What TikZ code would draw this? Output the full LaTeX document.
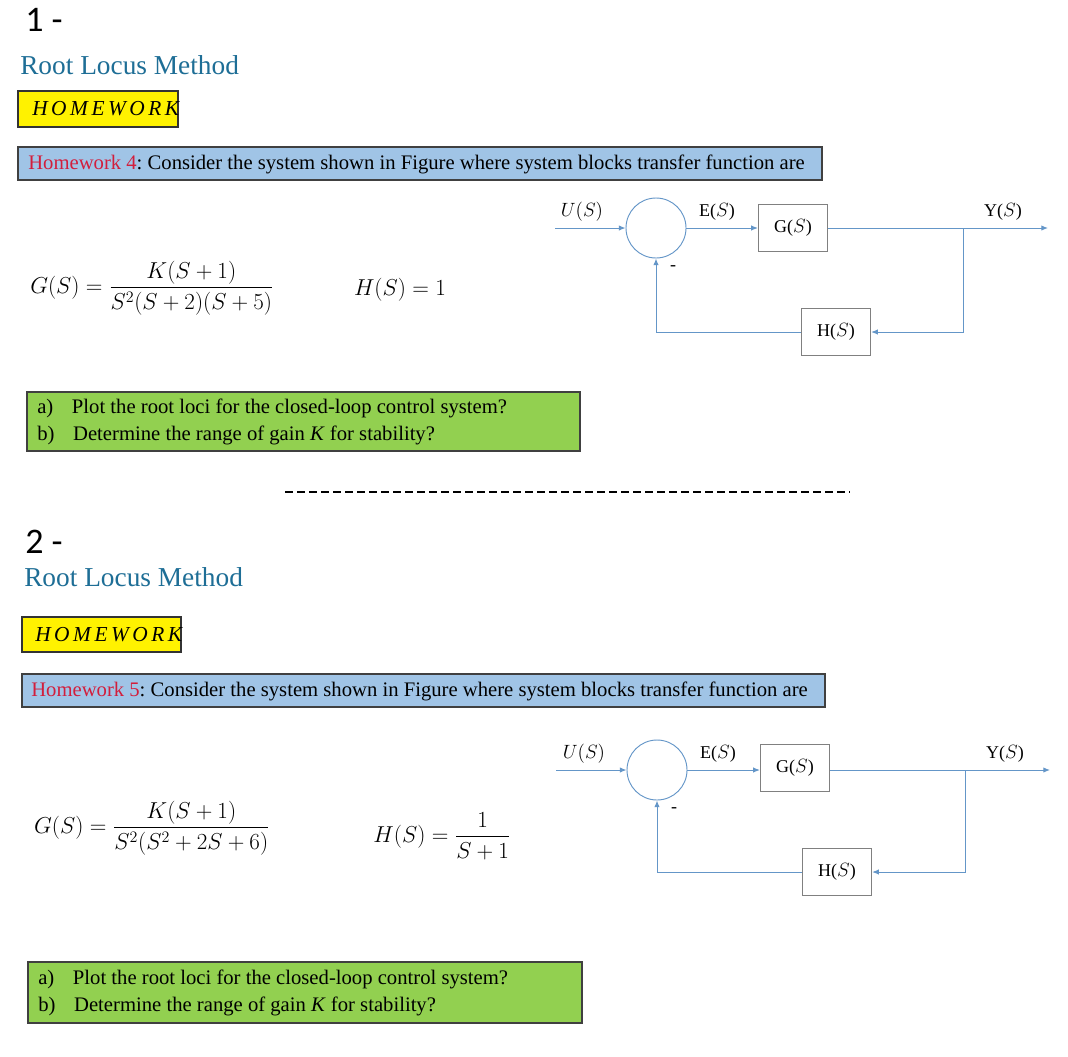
\documentclass[tikz,border=0pt]{standalone}
\usepackage{amsmath}
\usepackage{fontspec}
\setmainfont{Liberation Serif}
\newfontfamily\calib{Carlito}
\usetikzlibrary{arrows.meta}
\definecolor{teal1}{RGB}{30,110,150}
\definecolor{hwblue}{RGB}{160,196,230}
\definecolor{hwgreen}{RGB}{146,208,80}
\definecolor{lnblue}{RGB}{100,150,200}
\definecolor{hwred}{RGB}{210,30,60}
\begin{document}
\begin{tikzpicture}[x=0.75pt,y=-0.75pt,
  txt/.style={inner sep=0pt,anchor=west,font=\fontsize{15.5}{18}\selectfont},
  title/.style={inner sep=0pt,anchor=west,text=teal1,font=\fontsize{20.5}{24}\selectfont},
  num/.style={inner sep=0pt,anchor=west,font=\calib\fontsize{27}{30}\selectfont},
  yel/.style={draw=black!80,fill=yellow,line width=0.8pt},
  hw/.style={draw=black!75,fill=hwblue,line width=0.8pt},
  grn/.style={draw=black!75,fill=hwgreen,line width=0.8pt},
  blk/.style={draw=black!50,line width=0.7pt,minimum width=52pt,minimum height=35pt,inner sep=0pt,font=\fontsize{13.5}{15}\selectfont},
  sumc/.style={circle,draw=lnblue,line width=0.7pt,minimum size=45pt,inner sep=0pt},
  ln/.style={draw=lnblue,line width=0.7pt},
  arr/.style={ln,-{Latex[length=5pt,width=4pt]}},
  lab/.style={inner sep=0pt,font=\fontsize{13.5}{15}\selectfont},
  eq/.style={inner sep=0pt,font=\fontsize{16.5}{19}\selectfont},
  hwk/.style={txt,font=\itshape\fontsize{16}{18}\selectfont}]
\useasboundingbox (0,0) rectangle (1068,1057);
\fill[white] (0,0) rectangle (1068,1057);
% ---------- section 1
\node[num] (n1) at (25,20) {1 -};
\node[title] (t1) at (20,65) {Root Locus Method};
\draw[yel] (18,91) rectangle (178,127);
\node[hwk] (hk1) at (32,109) {H\,O\,M\,E\,W\,O\,R\,K};
\draw[hw] (18,147) rectangle (822,180);
\node[txt] (h4) at (28,164) {\textcolor{hwred}{Homework 4}:\ Consider the system shown in Figure where system blocks transfer function are};
\node[eq] (g1) at (152,288) {$G(S)=\dfrac{K(S+1)}{S^2(S+2)(S+5)}$};
\node[eq] (hs1) at (400,290) {$H(S)=1$};
\draw[grn] (27,392) rectangle (580,451);
\node[txt] (a1) at (37,408) {a)\hspace{14pt}Plot the root loci for the closed-loop control system?};
\node[txt] (b1) at (37,435) {b)\hspace{14pt}Determine the range of gain \textit{K} for stability?};
% diagram 1
\coordinate (in1) at (555,228);
\node[sumc] (s1) at (656,228) {};
\node[blk] (G1) at (793,228) {G($S$)};
\coordinate (br1) at (963,228);
\coordinate (out1) at (1048,228);
\node[blk] (H1) at (836,332) {H($S$)};
\draw[arr] (in1) -- (s1.west);
\draw[arr] (s1.east) -- (G1.west);
\draw[ln] (G1.east) -- (br1);
\draw[arr] (br1) -- (out1);
\draw[arr] (br1) |- (H1.east);
\draw[arr] (H1.west) -| (s1.south);
\node[lab] (u1) at (582,212) {$U(S)$};
\node[lab] (e1) at (717,212) {E($S$)};
\node[lab] (y1) at (1003,212) {Y($S$)};
\node[lab] (m1) at (673,268) {-};
% dashed
\coordinate (d1) at (285,492);
\coordinate (d2) at (850,492);
\draw[line width=1.2pt,dash pattern=on 6pt off 3pt] (d1) -- (d2);
% ---------- section 2
\node[num] (n2) at (25,542) {2 -};
\node[title] (t2) at (24,577) {Root Locus Method};
\draw[yel] (22,617) rectangle (181,652);
\node[hwk] (hk2) at (35,635) {H\,O\,M\,E\,W\,O\,R\,K};
\draw[hw] (22,674) rectangle (825,707);
\node[txt] (h5) at (31,691) {\textcolor{hwred}{Homework 5}:\ Consider the system shown in Figure where system blocks transfer function are};
\node[eq] (g2) at (152,828) {$G(S)=\dfrac{K(S+1)}{S^2(S^2+2S+6)}$};
\node[eq] (hs2) at (442,836) {$H(S)=\dfrac{1}{S+1}$};
\draw[grn] (28,962) rectangle (582,1023);
\node[txt] (a2) at (38,979) {a)\hspace{14pt}Plot the root loci for the closed-loop control system?};
\node[txt] (b2) at (38,1006) {b)\hspace{14pt}Determine the range of gain \textit{K} for stability?};
% diagram 2
\coordinate (in2) at (556,770);
\node[sumc] (s2) at (657,770) {};
\node[blk] (G2) at (795,768) {G($S$)};
\coordinate (br2) at (965,770);
\coordinate (out2) at (1050,770);
\node[blk] (H2) at (837,872) {H($S$)};
\draw[arr] (in2) -- (s2.west);
\draw[arr] (s2.east) -- (G2.west |- s2.east);
\draw[ln] (G2.east |- br2) -- (br2);
\draw[arr] (br2) -- (out2);
\draw[arr] (br2) |- (H2.east);
\draw[arr] (H2.west) -| (s2.south);
\node[lab] (u2) at (584,754) {$U(S)$};
\node[lab] (e2) at (718,754) {E($S$)};
\node[lab] (y2) at (1005,754) {Y($S$)};
\node[lab] (m2) at (674,810) {-};
\end{tikzpicture}
\end{document}
